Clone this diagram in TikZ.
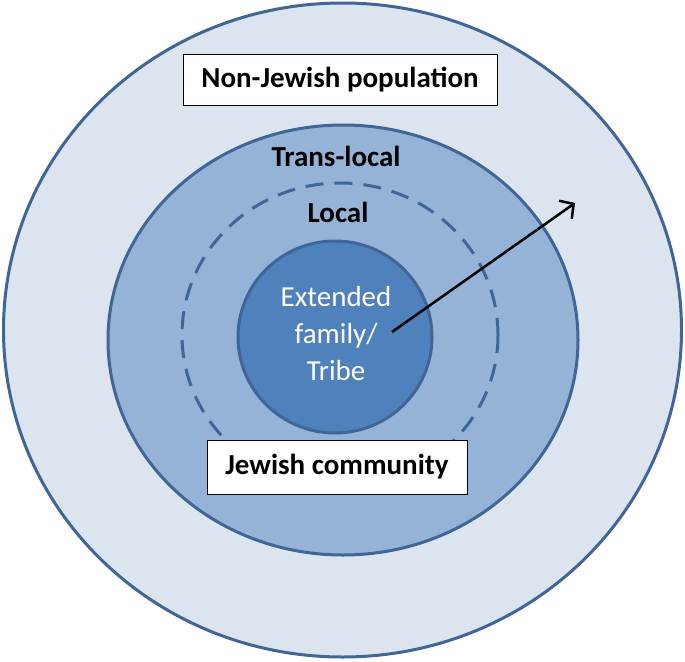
\documentclass[tikz,border=0pt]{standalone}
\usepackage{fontspec}
\setmainfont{Carlito}
\usetikzlibrary{arrows.meta}
\begin{document}
\begin{tikzpicture}[x=1pt,y=-1pt,
  ring/.style={draw=edgeblue,line width=3pt},
  lbl/.style={font=\bfseries\fontsize{29}{34}\selectfont},
  box/.style={draw=black,fill=white,line width=1pt,minimum height=50pt,font=\bfseries\fontsize{29}{34}\selectfont}]
\definecolor{edgeblue}{HTML}{3F6697}
\definecolor{outerfill}{HTML}{DCE4EF}
\definecolor{midfill}{HTML}{95B3D7}
\definecolor{innerfill}{HTML}{4F81BD}
\useasboundingbox (0,0) rectangle (685,661);
\fill[white] (0,0) rectangle (685,661);
\draw[ring,fill=outerfill] (342.5,330) ellipse [x radius=339, y radius=327];
\draw[ring,fill=midfill] (343,340) ellipse [x radius=235, y radius=215];
\draw[draw=edgeblue,line width=3pt,dash pattern=on 18pt off 11pt] (340,335) ellipse [x radius=158, y radius=152];
\draw[ring,fill=innerfill] (335,337) ellipse [x radius=97, y radius=96];
\node[lbl] (tl) at (336,156) {Trans-local};
\node[lbl] (loc) at (338,212) {Local};
\node[text=white,align=center,font=\fontsize{29}{37}\selectfont] (fam) at (336,334) {Extended\\family/\\Tribe};
\node[box,minimum width=314pt] (nj) at (340,80) {Non-Jewish population};
\node[box,minimum width=260pt,minimum height=54pt] (jc) at (337,467) {Jewish community};
\coordinate (a0) at (392,332);
\coordinate (a1) at (575,203);
\draw[line width=2.5pt,-{Straight Barb[length=10pt,width=22pt]}] (a0) -- (a1);
\end{tikzpicture}
\end{document}
